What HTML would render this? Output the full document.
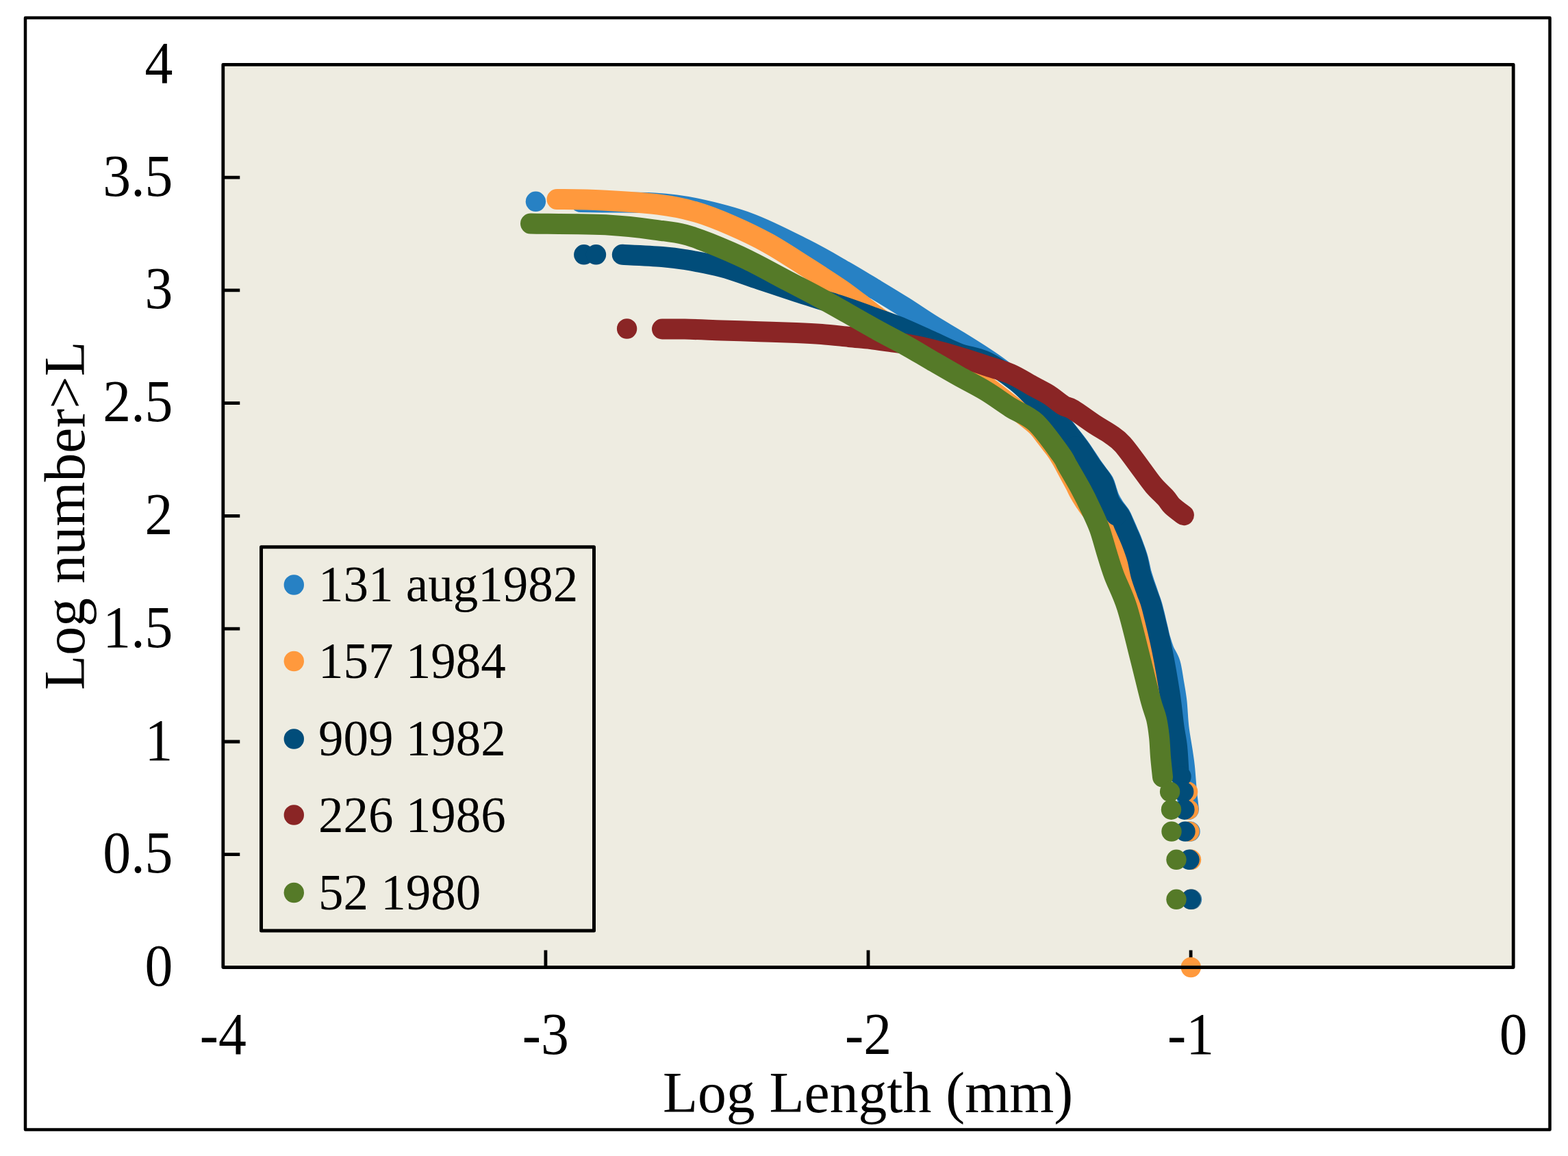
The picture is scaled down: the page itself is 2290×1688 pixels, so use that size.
<!DOCTYPE html>
<html><head><meta charset="utf-8"><title>Log number vs Log Length</title>
<style>html,body{margin:0;padding:0;background:#fff;}svg{display:block;}text{white-space:pre;}</style></head>
<body>
<svg width="2290" height="1688" viewBox="0 0 2290 1688" font-family="Liberation Serif, 'Times New Roman', serif"><rect x="0" y="0" width="2290" height="1688" fill="#fff"/>
<rect x="37" y="26" width="2226.5" height="1623.5" fill="none" stroke="#000" stroke-width="4.5" stroke-linejoin="round"/>
<rect x="325.8" y="94.3" width="1884.4" height="1318.2" fill="#EEECE1"/>
<path d="M325.8 1247.7H350.3M325.8 1083H350.3M325.8 918.2H350.3M325.8 753.4H350.3M325.8 588.6H350.3M325.8 423.8H350.3M325.8 259.1H350.3M796.9 1412.5V1387.5M1268 1412.5V1387.5M1739.1 1412.5V1387.5" stroke="#000" stroke-width="4.8" fill="none"/>
<path d="M848 295C853.3 295.1 862.2 295.2 880 295.5C897.8 295.8 932.6 295.1 955 296.5C977.4 297.9 991.2 299.1 1014.5 304C1037.8 308.9 1068 316.1 1094.8 326C1121.5 335.9 1152 351.9 1175 363.5C1198 375.1 1215.5 385.5 1233 395.5C1250.5 405.5 1265.5 414.8 1280 423.5C1294.5 432.2 1306.7 439.6 1320 448C1333.3 456.4 1346.7 465.7 1360 474C1373.3 482.3 1387 490 1400 498C1413 506 1427.8 515.3 1438 522C1448.2 528.7 1452.6 531.7 1461 538C1469.4 544.3 1481.5 554.3 1488.2 560C1494.9 565.7 1496.8 568 1501 572C1505.3 576 1509.7 580 1513.9 584C1518.1 588 1522.2 592 1526.3 596C1530.4 600 1534.6 604 1538.7 608C1542.7 612 1547.2 616 1550.8 620C1554.4 624 1557.1 628 1560.2 632C1563.4 636 1566.6 640 1569.7 644C1572.8 648 1575.8 652 1578.7 656C1581.5 660 1584 664 1586.7 668C1589.4 672 1591.9 676 1594.7 680C1597.5 684 1600.5 688 1603.3 692C1606.2 696 1609.9 700 1612 704C1614.1 708 1614.8 712 1616.1 716C1617.5 720 1618.4 724 1620.3 728C1622.1 732 1624.5 736 1627.1 740C1629.8 744 1633.5 748 1636 752C1638.4 756 1639.8 760 1641.6 764C1643.4 768 1645.2 772 1646.9 776C1648.6 780 1650.5 784 1652.1 788C1653.7 792 1655.1 796 1656.5 800C1658 804 1659.5 808 1660.7 812C1662 816 1662.9 820 1663.9 824C1664.8 828 1665.5 832 1666.5 836C1667.6 840 1668.9 844 1670.2 848C1671.4 852 1672.9 856 1674.3 860C1675.7 864 1677 868 1678.4 872C1679.8 876 1681.3 880 1682.5 884C1683.7 888 1684.6 892 1685.6 896C1686.6 900 1687.5 904 1688.4 908C1689.4 912 1690.3 916 1691.3 920C1692.2 924 1692.6 927 1694.1 932C1695.6 937 1697.5 943.8 1700 950C1702.5 956.2 1706.7 961.3 1709 969C1711.3 976.7 1712.4 986.7 1714 996C1715.6 1005.3 1717.3 1014 1718.5 1025C1719.7 1036 1720 1049.8 1721.4 1062C1722.8 1074.2 1725.6 1088.3 1727 1098C1728.4 1107.7 1729 1110.3 1730 1120C1731 1129.7 1732 1145.7 1733 1156C1734 1166.3 1735.5 1177.7 1736 1182" stroke="#2781C4" stroke-width="30" stroke-linecap="round" stroke-linejoin="round" fill="none"/>
<circle cx="782.4" cy="294.3" r="14.7" fill="#2781C4"/>
<circle cx="1738" cy="1214.1" r="14.7" fill="#2781C4"/>
<circle cx="1739" cy="1255.3" r="14.7" fill="#2781C4"/>
<circle cx="1740.5" cy="1313.3" r="14.7" fill="#2781C4"/>
<path d="M813.5 291C824.6 291.2 855.4 291.2 880 292.5C904.6 293.8 938.6 295.8 961 298.5C983.4 301.2 996.7 303.9 1014.5 309C1032.3 314.1 1050.2 321.3 1068 329C1085.8 336.7 1103.8 345.2 1121.6 355C1139.4 364.8 1161.9 379.8 1175 388C1188.1 396.2 1191 398.2 1200 404C1209 409.8 1219.9 416.8 1228.7 423C1237.5 429.2 1244.1 434.3 1253 441C1261.9 447.7 1274.2 457.3 1282 463C1289.8 468.7 1288.7 467.8 1300 475C1311.3 482.2 1333.3 496 1350 506C1366.7 516 1383.3 524.2 1400 535C1416.7 545.8 1433 558.2 1450 571C1467 583.8 1491.3 603.2 1502.3 612C1513.3 620.8 1512.2 620 1516.1 624C1520 628 1522.5 632 1525.6 636C1528.8 640 1531.8 644 1534.8 648C1537.9 652 1541.2 656 1543.9 660C1546.6 664 1548.9 668 1551.2 672C1553.5 676 1555.6 680 1557.7 684C1559.9 688 1562 692 1564.2 696C1566.4 700 1568.6 704 1570.7 708C1572.7 712 1574.4 716 1576.7 720C1578.9 724 1581.4 728 1584 732C1586.7 736 1589.1 740 1592.6 744C1596 748 1600.2 752 1604.6 756C1609 760 1614.4 764 1618.8 768C1623.2 772 1628.1 776 1630.9 780C1633.6 784 1633.9 788 1635.3 792C1636.6 796 1637.9 800 1639.2 804C1640.5 808 1642 812 1643.2 816C1644.4 820 1645.3 824 1646.4 828C1647.5 832 1648.4 836 1649.7 840C1651 844 1652.7 848 1654.2 852C1655.7 856 1657.2 860 1658.7 864C1660.2 868 1661.7 872 1663.2 876C1664.6 880 1666.3 884 1667.5 888C1668.7 892 1669.5 896 1670.5 900C1671.5 904 1672.5 908 1673.4 912C1674.4 916 1675.4 920 1676.4 924C1677.4 928 1678.4 932 1679.4 936C1680.4 940 1681.4 944 1682.4 948C1683.3 952 1684.2 956 1685.1 960C1685.9 964 1686.8 968 1687.6 972C1688.5 976 1689.3 980 1690.2 984C1691 988 1691.9 992 1692.7 996C1693.6 1000 1694.4 1004 1695.3 1008C1696.1 1012 1696.8 1016 1697.6 1020C1698.5 1024 1699.3 1028 1700.1 1032C1701 1036 1702 1040 1702.7 1044C1703.5 1048 1704.2 1052 1704.9 1056C1705.5 1060 1706.1 1064 1706.7 1068C1707.2 1072 1707.9 1076 1708.4 1080C1708.8 1084 1709.3 1088 1709.6 1092C1710 1096 1710.1 1100 1710.4 1104C1710.7 1108 1711.3 1114 1711.4 1116" stroke="#FF993D" stroke-width="30" stroke-linecap="round" stroke-linejoin="round" fill="none"/>
<circle cx="1734.6" cy="1156.1" r="14.7" fill="#FF993D"/>
<circle cx="1735.8" cy="1182.2" r="14.7" fill="#FF993D"/>
<circle cx="1737" cy="1214.1" r="14.7" fill="#FF993D"/>
<circle cx="1739.5" cy="1255.3" r="14.7" fill="#FF993D"/>
<circle cx="1739.5" cy="1313.3" r="14.7" fill="#FF993D"/>
<circle cx="1739.3" cy="1412.5" r="14.7" fill="#FF993D"/>
<path d="M908.8 371.8C918.5 372.3 951.8 373.8 967 375C982.2 376.2 985.4 376.5 1000 379C1014.6 381.5 1036.3 385.2 1054.5 390C1072.7 394.8 1090.9 402 1109 408C1127.1 414 1143.4 419.7 1163 426C1182.6 432.3 1207.1 439.5 1226.6 446C1246.1 452.5 1264.4 459.3 1280 465C1295.6 470.7 1306.7 474.5 1320 480C1333.3 485.5 1346.7 492 1360 498C1373.3 504 1386.7 511 1400 516C1413.3 521 1426 521.2 1440 528C1454 534.8 1471.5 547.3 1484 557C1496.5 566.7 1504.2 575.7 1515 586C1525.8 596.3 1539 608 1549 619C1559 630 1567.5 641.8 1575 652C1582.5 662.2 1587.7 671.3 1593.7 680C1599.7 688.7 1606.5 695.2 1611 704C1615.5 712.8 1616.9 724.9 1621 733C1625.1 741.1 1631.9 746.9 1635.4 752.6C1638.9 758.3 1639.2 760.6 1642 767C1644.8 773.4 1649.2 782.9 1652.4 791C1655.6 799.1 1658.7 807.4 1661 815.6C1663.3 823.8 1664.1 831.8 1666.4 840C1668.7 848.2 1672.3 857.2 1675 865C1677.7 872.8 1678.8 872.7 1682.5 887C1686.2 901.3 1693.2 929.5 1697.5 950.7C1701.8 971.9 1705.8 995.8 1708.6 1014C1711.4 1032.2 1712.6 1047.3 1714.3 1060C1716 1072.7 1717.8 1078.8 1719 1090C1720.2 1101.2 1721.1 1120.8 1721.5 1127" stroke="#014D7A" stroke-width="30" stroke-linecap="round" stroke-linejoin="round" fill="none"/>
<path d="M1570 652C1573.1 656.7 1582.7 671.3 1588.7 680C1594.7 688.7 1601.5 695.2 1606 704C1610.5 712.8 1611.9 724.9 1616 733C1620.1 741.1 1628 749.3 1630.4 752.6" stroke="#014D7A" stroke-width="30" stroke-linecap="round" stroke-linejoin="round" fill="none"/>
<circle cx="852.8" cy="371.8" r="14.7" fill="#014D7A"/>
<circle cx="870.5" cy="371.8" r="14.7" fill="#014D7A"/>
<circle cx="1725" cy="1134" r="14.7" fill="#014D7A"/>
<circle cx="1728.7" cy="1156.1" r="14.7" fill="#014D7A"/>
<circle cx="1729.9" cy="1182.2" r="14.7" fill="#014D7A"/>
<circle cx="1731" cy="1214.1" r="14.7" fill="#014D7A"/>
<circle cx="1737" cy="1255.3" r="14.7" fill="#014D7A"/>
<circle cx="1739.3" cy="1313.3" r="14.7" fill="#014D7A"/>
<path d="M967 480.5C972.5 480.5 985.5 480.3 1000 480.6C1014.5 480.9 1035.8 481.8 1054 482.4C1072.2 483 1090.8 483.6 1109 484.2C1127.2 484.8 1147.8 485.4 1163 486C1178.2 486.6 1187.2 487 1200 488C1212.8 489 1228 490.8 1240 492C1252 493.2 1262 493.8 1272 495C1282 496.2 1290.8 497.7 1300 499C1309.2 500.3 1317 501.2 1327 503C1337 504.8 1347.8 507 1360 510C1372.2 513 1386.7 517 1400 521C1413.3 525 1427.3 529.8 1440 534C1452.7 538.2 1464.8 541.2 1476 546C1487.2 550.8 1497.8 558 1507 563C1516.2 568 1523.3 571.2 1531 576C1538.7 580.8 1547 588.3 1553 592C1559 595.7 1559.3 593.3 1567 598C1574.7 602.7 1589.9 614 1599 620C1608.1 626 1614.8 629.2 1621.6 634C1628.4 638.8 1632.1 640.5 1639.7 649C1647.3 657.5 1659.5 675 1667 685C1674.5 695 1679.1 702 1685 709C1690.9 716 1698 722 1702.5 727C1707 732 1707.6 734.8 1712 739C1716.4 743.2 1726.1 750.1 1728.9 752.3" stroke="#8A2525" stroke-width="30" stroke-linecap="round" stroke-linejoin="round" fill="none"/>
<circle cx="915.6" cy="480" r="14.7" fill="#8A2525"/>
<path d="M775 326.5C794.3 326.9 859 326.9 891 328.7C923 330.4 948.8 334.7 967 337C985.2 339.3 988.5 339.6 1000 342.6C1011.5 345.6 1020.8 348.9 1036 355C1051.2 361.1 1072 369.8 1091 379C1110 388.2 1132.8 401 1150 410C1167.2 419 1179.5 425.2 1194 433C1208.5 440.8 1222.5 448.8 1237 457C1251.5 465.2 1266.5 474 1281 482C1295.5 490 1310.8 497.7 1324 505C1337.2 512.3 1347.3 518.7 1360 526C1372.7 533.3 1386.7 541.5 1400 549C1413.3 556.5 1427.3 563.3 1440 571C1452.7 578.7 1463.9 587.3 1476 595C1488.1 602.7 1500.4 605.7 1512.6 617C1524.8 628.3 1541.3 652.5 1549 663C1556.7 673.5 1554.1 671.5 1559 680C1563.9 688.5 1572.8 703.5 1578.5 714C1584.2 724.5 1588.5 733.3 1593 743C1597.5 752.7 1601.9 761.5 1605.7 772C1609.5 782.5 1612.5 794.7 1616 806C1619.5 817.3 1622 826.5 1627 840C1632 853.5 1639.7 867 1646 887C1652.3 907 1659.2 937.3 1665 960C1670.8 982.7 1676.7 1008 1680.7 1023C1684.7 1038 1687 1041.2 1689 1050C1691 1058.8 1692 1066.8 1693 1076C1694 1085.2 1694.2 1095.2 1695 1105C1695.8 1114.8 1697.5 1129.6 1698 1134.5" stroke="#557A28" stroke-width="30" stroke-linecap="round" stroke-linejoin="round" fill="none"/>
<circle cx="1708.6" cy="1156.1" r="14.7" fill="#557A28"/>
<circle cx="1710.5" cy="1182.2" r="14.7" fill="#557A28"/>
<circle cx="1711" cy="1214.1" r="14.7" fill="#557A28"/>
<circle cx="1718" cy="1255.3" r="14.7" fill="#557A28"/>
<circle cx="1718" cy="1313.3" r="14.7" fill="#557A28"/>
<rect x="325.8" y="94.3" width="1884.4" height="1318.2" fill="none" stroke="#000" stroke-width="4.8" stroke-linejoin="round"/>
<rect x="381.5" y="798.8" width="486" height="560.2" fill="#EEECE1" stroke="#000" stroke-width="5" stroke-linejoin="round"/>
<circle cx="429.3" cy="854" r="14.7" fill="#2781C4"/>
<text x="465" y="877.9" font-size="73">131 aug1982</text>
<circle cx="429.3" cy="965.5" r="14.7" fill="#FF993D"/>
<text x="465" y="990.3" font-size="73">157 1984</text>
<circle cx="429.3" cy="1079" r="14.7" fill="#014D7A"/>
<text x="465" y="1102.7" font-size="73">909 1982</text>
<circle cx="429.3" cy="1190" r="14.7" fill="#8A2525"/>
<text x="465" y="1215.1" font-size="73">226 1986</text>
<circle cx="429.3" cy="1303.5" r="14.7" fill="#557A28"/>
<text x="465" y="1327.5" font-size="73">52 1980</text>
<text transform="translate(252.5 1439) scale(0.937 1)" text-anchor="end" font-size="87.3">0</text>
<text transform="translate(252.5 1274.2) scale(0.937 1)" text-anchor="end" font-size="87.3">0.5</text>
<text transform="translate(252.5 1109.5) scale(0.937 1)" text-anchor="end" font-size="87.3">1</text>
<text transform="translate(252.5 944.7) scale(0.937 1)" text-anchor="end" font-size="87.3">1.5</text>
<text transform="translate(252.5 779.9) scale(0.937 1)" text-anchor="end" font-size="87.3">2</text>
<text transform="translate(252.5 615.1) scale(0.937 1)" text-anchor="end" font-size="87.3">2.5</text>
<text transform="translate(252.5 450.3) scale(0.937 1)" text-anchor="end" font-size="87.3">3</text>
<text transform="translate(252.5 285.6) scale(0.937 1)" text-anchor="end" font-size="87.3">3.5</text>
<text transform="translate(252.5 120.8) scale(0.937 1)" text-anchor="end" font-size="87.3">4</text>
<text transform="translate(325.8 1539.3) scale(0.937 1)" text-anchor="middle" font-size="87.3">-4</text>
<text transform="translate(796.9 1539.3) scale(0.937 1)" text-anchor="middle" font-size="87.3">-3</text>
<text transform="translate(1268 1539.3) scale(0.937 1)" text-anchor="middle" font-size="87.3">-2</text>
<text transform="translate(1739.1 1539.3) scale(0.937 1)" text-anchor="middle" font-size="87.3">-1</text>
<text transform="translate(2210.2 1539.3) scale(0.937 1)" text-anchor="middle" font-size="87.3">0</text>
<text transform="translate(1267.5 1624) scale(0.984 1)" text-anchor="middle" font-size="85">Log Length (mm)</text>
<text transform="translate(122.6 753.2) rotate(-90) scale(0.984 1)" text-anchor="middle" font-size="85">Log number&gt;L</text></svg>
</body></html>
